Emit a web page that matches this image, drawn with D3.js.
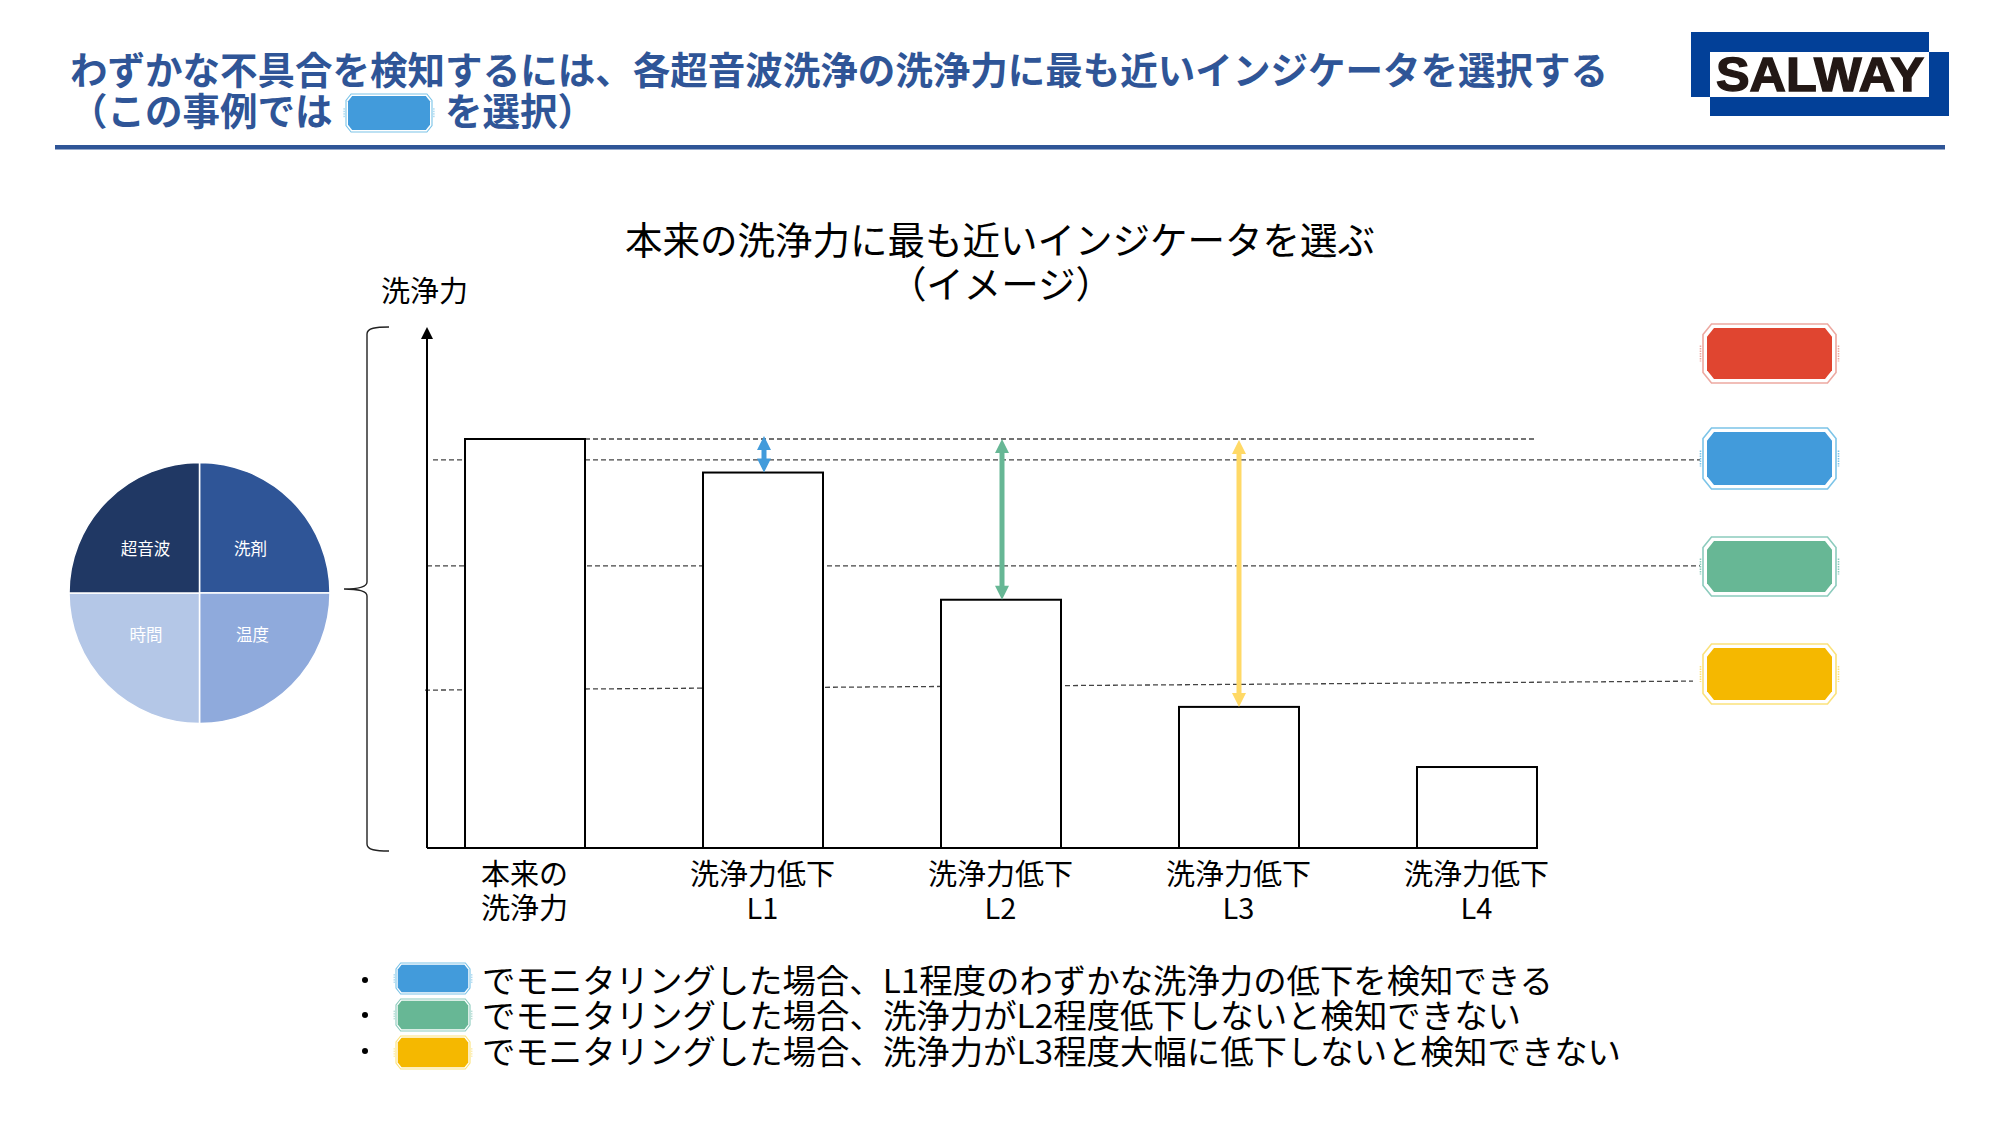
<!DOCTYPE html>
<html lang="ja">
<head>
<meta charset="utf-8">
<title>本来の洗浄力に最も近いインジケータを選ぶ</title>
<script src="https://cdn.jsdelivr.net/npm/d3@7/dist/d3.min.js"></script>
<style>
  html, body { margin: 0; padding: 0; background: #fff; }
  text { font-family: "Noto Sans CJK JP", "Noto Sans", sans-serif; }
</style>
</head>
<body>
<svg id="slide" width="2000" height="1125"></svg>
<script>
// Cleaning power on a 0-100 scale, relative to the original level
const categories = ["本来の洗浄力", "洗浄力低下L1", "洗浄力低下L2", "洗浄力低下L3", "洗浄力低下L4"];
const values = [100, 91.8, 60.7, 34.5, 19.8];
const tickLine1 = ["本来の", "洗浄力低下", "洗浄力低下", "洗浄力低下", "洗浄力低下"];
const tickLine2 = ["洗浄力", "L1", "L2", "L3", "L4"];

// Levels where each indicator reacts (start and end of the hand-drawn guide)
const guideStart = [100, 94.9, 69, 38.6];
const guideEnd = [100, 94.9, 69, 40.8];

// Gap arrows: which bar each one reaches down to
const arrowBars = ["洗浄力低下L1", "洗浄力低下L2", "洗浄力低下L3"];
const arrowColors = ["#429bdb", "#67b795", "#ffd966"];

const factorNames = ["洗剤", "温度", "時間", "超音波"];
const factorShares = [25, 25, 25, 25];
const factorColors = ["#2f5597", "#8faadc", "#b4c7e7", "#203864"];

const chipFills = ["#e04530", "#429bdb", "#67b795", "#f5b800"];
const chipEdges = ["#eda9a1", "#7cc4e8", "#8ccbbd", "#fbe27c"];

const bulletTexts = [
  "でモニタリングした場合、L1程度のわずかな洗浄力の低下を検知できる",
  "でモニタリングした場合、洗浄力がL2程度低下しないと検知できない",
  "でモニタリングした場合、洗浄力がL3程度大幅に低下しないと検知できない"
];

const svg = d3.select("#slide");
const NAVY = "#2f5597";

// Octagonal indicator strip: pale outer outline, white gap, solid inner body,
// and the tiny printed marks on both short sides
function chip(x0, y0, x1, y1, fill, edge, scale = 1) {
  const octagon = (a, b, c, d, cut) => {
    const cx = cut, cy = cut * 1.25;
    return `M${a + cx},${b}L${c - cx},${b}L${c},${b + cy}L${c},${d - cy}L${c - cx},${d}L${a + cx},${d}L${a},${d - cy}L${a},${b + cy}Z`;
  };
  const g = svg.append("g");
  const midY = (y0 + y1) / 2;
  [x0 - 1.5 * scale, x1 + 1.5 * scale].forEach(mx => {
    g.append("line").attr("x1", mx).attr("x2", mx)
      .attr("y1", midY - 8 * scale).attr("y2", midY + 8 * scale)
      .attr("stroke", edge).attr("stroke-width", 1.6 * scale).attr("stroke-dasharray", "1.5 1");
  });
  g.append("path").attr("d", octagon(x0 + 1, y0 + 1, x1 - 1, y1 - 1, 8.5 * scale))
    .attr("fill", "#fff").attr("stroke", edge).attr("stroke-width", 1.6 * Math.max(scale, 0.7));
  const inset = 5 * scale;
  g.append("path").attr("d", octagon(x0 + inset, y0 + inset, x1 - inset, y1 - inset, 7 * scale))
    .attr("fill", fill);
}

// Header
svg.append("text").attr("x", 70).attr("y", 67.5).attr("dominant-baseline", "central")
  .attr("font-size", 37.5).attr("font-weight", 700).attr("fill", NAVY)
  .attr("textLength", 1538).attr("lengthAdjust", "spacingAndGlyphs")
  .text("わずかな不具合を検知するには、各超音波洗浄の洗浄力に最も近いインジケータを選択する");
svg.append("text").attr("x", 70).attr("y", 108).attr("dominant-baseline", "central")
  .attr("font-size", 37.5).attr("font-weight", 700).attr("fill", NAVY).text("（この事例では");
svg.append("text").attr("x", 445).attr("y", 108).attr("dominant-baseline", "central")
  .attr("font-size", 37.5).attr("font-weight", 700).attr("fill", NAVY).text("を選択）");
chip(345, 93, 433, 133, chipFills[1], chipEdges[1], 0.6);
svg.append("rect").attr("x", 55).attr("y", 145).attr("width", 1890).attr("height", 4.5).attr("fill", NAVY);

// Logo block
svg.append("rect").attr("x", 1691).attr("y", 32).attr("width", 238).attr("height", 65).attr("fill", "#024098");
svg.append("rect").attr("x", 1710).attr("y", 52).attr("width", 239).attr("height", 64).attr("fill", "#024098");
svg.append("rect").attr("x", 1710).attr("y", 52).attr("width", 219).attr("height", 45).attr("fill", "#fff");
svg.append("text").attr("x", 1716).attr("y", 91).attr("textLength", 208).attr("lengthAdjust", "spacingAndGlyphs")
  .style("font-family", "'Liberation Sans', sans-serif").attr("font-weight", 700).attr("font-size", 48)
  .attr("stroke", "#231815").attr("stroke-width", 1.4).attr("fill", "#231815").text("SALWAY");

// Chart titles
svg.append("text").attr("x", 1000).attr("y", 237).attr("text-anchor", "middle").attr("dominant-baseline", "central")
  .attr("font-size", 37.5).attr("fill", "#000").text("本来の洗浄力に最も近いインジケータを選ぶ");
svg.append("text").attr("x", 1001).attr("y", 281).attr("text-anchor", "middle").attr("dominant-baseline", "central")
  .attr("font-size", 37.5).attr("fill", "#000").text("（イメージ）");
svg.append("text").attr("x", 381).attr("y", 289).attr("dominant-baseline", "central")
  .attr("font-size", 29).attr("fill", "#000").text("洗浄力");

// Scales
const x = d3.scaleBand().domain(categories).range([427, 1575]).paddingInner(0.4958).paddingOuter(0.1597);
const y = d3.scaleLinear().domain([0, 100]).range([848, 439]);
const lastRight = x(categories[categories.length - 1]) + x.bandwidth();

// Guides run behind the bars, so the bars interrupt them
const guideLefts = [585, 433, 427, 425];
const guideRights = [lastRight, 1700, 1700, 1693];
svg.append("g").selectAll("line").data(guideStart).join("line")
  .attr("x1", (d, i) => guideLefts[i]).attr("x2", (d, i) => guideRights[i])
  .attr("y1", d => y(d)).attr("y2", (d, i) => y(guideEnd[i]))
  .attr("stroke", "#444").attr("stroke-width", 1.3).attr("stroke-dasharray", "5 3");

// Bars
svg.append("g").selectAll("rect").data(values).join("rect")
  .attr("x", (d, i) => x(categories[i])).attr("y", d => y(d))
  .attr("width", x.bandwidth()).attr("height", d => y(0) - y(d))
  .attr("fill", "#fff").attr("stroke", "#000").attr("stroke-width", 2);

// Axes: a bare x axis and an arrow-tipped y axis, category text placed by the band scale
svg.append("line").attr("x1", 427).attr("x2", lastRight).attr("y1", y(0)).attr("y2", y(0))
  .attr("stroke", "#000").attr("stroke-width", 2);
svg.append("line").attr("x1", 427).attr("x2", 427).attr("y1", y(0)).attr("y2", 336)
  .attr("stroke", "#000").attr("stroke-width", 2);
svg.append("path").attr("d", "M427,327L433,339L421,339Z").attr("fill", "#000");

const tickGroup = svg.append("g").attr("font-size", 29).attr("text-anchor", "middle").attr("fill", "#000");
categories.forEach((c, i) => {
  const cx = x(c) + x.bandwidth() / 2;
  tickGroup.append("text").attr("x", cx - 0.5).attr("y", 872).attr("dominant-baseline", "central").text(tickLine1[i]);
  tickGroup.append("text").attr("x", cx - 0.5).attr("y", 906).attr("dominant-baseline", "central").text(tickLine2[i]);
});

// Double-headed arrows between the original level and each reduced bar
arrowBars.forEach((name, i) => {
  const cx = x(name) + x.bandwidth() / 2 + [1, 1, 0][i];
  const top = y(100) + [-3, 0, 1][i];
  const bottom = y(values[categories.indexOf(name)]);
  const col = arrowColors[i];
  const head = 14, half = 7;
  svg.append("line").attr("x1", cx).attr("x2", cx).attr("y1", top + head - 1).attr("y2", bottom - head + 1)
    .attr("stroke", col).attr("stroke-width", 5);
  svg.append("path").attr("fill", col)
    .attr("d", `M${cx},${top}L${cx + half},${top + head}L${cx - half},${top + head}Z M${cx},${bottom}L${cx + half},${bottom - head}L${cx - half},${bottom - head}Z`);
});

// Large indicators beside the chart
const chipTops = [323, 427, 536, 643];
const chipBottoms = [384, 490, 597, 705];
chipFills.forEach((f, i) => chip(1702, chipTops[i], 1837, chipBottoms[i], f, chipEdges[i]));

// Factor pie and its brace
const pieGroup = svg.append("g").attr("transform", "translate(199.5,593)");
const slices = d3.pie().sort(null)(factorShares);
const arc = d3.arc().innerRadius(0).outerRadius(130.5);
pieGroup.selectAll("path").data(slices).join("path")
  .attr("d", arc).attr("fill", (d, i) => factorColors[i]).attr("stroke", "#fff").attr("stroke-width", 1.5);
const labelX = [51, 53, -53.5, -54];
const labelY = [-45.5, 41, 41, -45.5];
pieGroup.selectAll("text").data(factorNames).join("text")
  .attr("x", (d, i) => labelX[i]).attr("y", (d, i) => labelY[i])
  .attr("text-anchor", "middle").attr("dominant-baseline", "central")
  .attr("font-size", 16.5).attr("fill", "#fff").text(d => d);

svg.append("path")
  .attr("d", "M389,327C376,327 367,328 367,334L367,582C367,587 359,589 344,589C359,589 367,591 367,596L367,844C367,850 376,851 389,851")
  .attr("fill", "none").attr("stroke", "#222").attr("stroke-width", 1.4);

// Conclusions with inline indicators
const bulletY = [978, 1013, 1049];
const dotY = [980, 1015, 1051];
const bulletChipTop = [962, 998, 1035];
const bulletChipBottom = [995, 1032, 1070];
const bulletWidths = [1071, 1039, 1139];
bulletTexts.forEach((t, i) => {
  svg.append("circle").attr("cx", 365).attr("cy", dotY[i]).attr("r", 3).attr("fill", "#000");
  chip(395, bulletChipTop[i], 471, bulletChipBottom[i], chipFills[i + 1], chipEdges[i + 1], 0.55);
  svg.append("text").attr("x", 482).attr("y", bulletY[i]).attr("dominant-baseline", "central")
    .attr("font-size", 32.5).attr("fill", "#000")
    .attr("textLength", bulletWidths[i]).attr("lengthAdjust", "spacingAndGlyphs").text(t);
});
</script>
</body>
</html>
